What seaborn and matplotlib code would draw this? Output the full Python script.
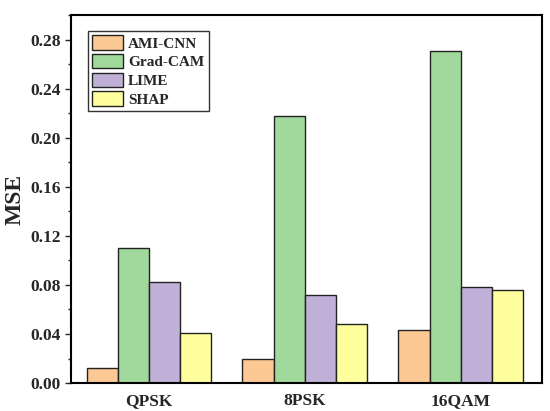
"""Grouped bar chart of MSE per modulation type and explanation method."""
import matplotlib
matplotlib.use('Agg')
import matplotlib.pyplot as plt
from matplotlib.ticker import MultipleLocator
import pandas as pd
import seaborn as sns

# data
modulations = ['QPSK', '8PSK', '16QAM']
methods = ['AMI-CNN', 'Grad-CAM', 'LIME', 'SHAP']
ami_cnn = [0.012, 0.020, 0.043]
grad_cam = [0.110, 0.218, 0.271]
lime = [0.082, 0.072, 0.078]
shap = [0.041, 0.048, 0.076]

colors = ['#FCC994', '#A0D99B', '#C0B0D8', '#FFFF9E']

rows = []
for method, values in zip(methods, [ami_cnn, grad_cam, lime, shap]):
    for mod, val in zip(modulations, values):
        rows.append({'Modulation': mod, 'Method': method, 'MSE': val})
df = pd.DataFrame(rows)

sns.set_style('ticks')
plt.rcParams['font.family'] = ['Liberation Serif', 'DejaVu Serif']
plt.rcParams['font.weight'] = 'bold'

fig = plt.figure(figsize=(5.5, 4.11), dpi=100)
ax = fig.add_axes([0.129, 0.068, 0.856, 0.8955])

sns.barplot(data=df, x='Modulation', y='MSE', hue='Method', order=modulations,
            hue_order=methods, palette=colors, width=0.8, edgecolor='#222222',
            linewidth=1.0, saturation=1, ax=ax)

ax.set_xlim(-0.5, 2.52)
ax.set_ylim(0, 0.30)
ax.yaxis.set_major_locator(MultipleLocator(0.04))
ax.yaxis.set_minor_locator(MultipleLocator(0.02))
ax.yaxis.set_major_formatter(lambda v, p: f'{v:.2f}')
ax.tick_params(axis='y', which='major', length=4, width=1, labelsize=12.5)
ax.tick_params(axis='y', which='minor', length=2, width=1)
ax.tick_params(axis='x', length=0, labelsize=12.5, pad=7)
for lbl in ax.get_xticklabels() + ax.get_yticklabels():
    lbl.set_fontweight('bold')

ax.set_xlabel('')
ax.set_ylabel('MSE', fontsize=17, fontweight='bold', labelpad=3)

for spine in ax.spines.values():
    spine.set_visible(True)
    spine.set_linewidth(1.5)
    spine.set_color('black')

leg = ax.legend(loc='upper left', bbox_to_anchor=(0.036, 0.956), fontsize=11,
                frameon=True, fancybox=False, edgecolor='black',
                handlelength=2.0, handleheight=1.05, handletextpad=0.35,
                labelspacing=0.22, borderpad=0.28, borderaxespad=0)
leg.get_frame().set_linewidth(1.0)
for txt in leg.get_texts():
    txt.set_fontweight('bold')

fig.savefig('out.png', dpi=100)
